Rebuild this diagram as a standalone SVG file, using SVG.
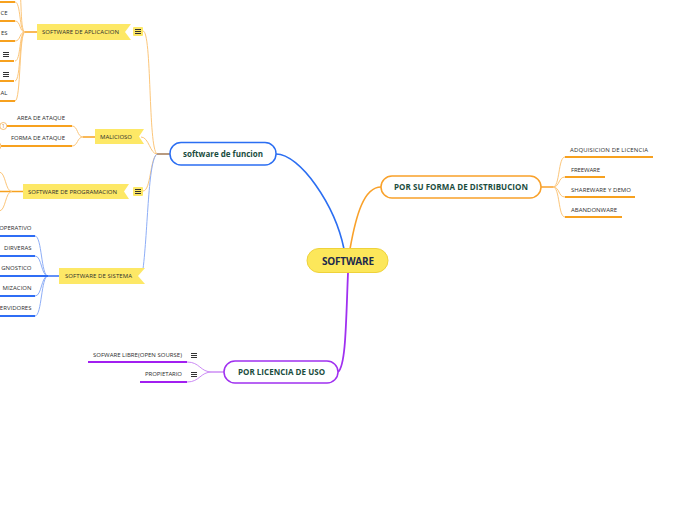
<svg xmlns="http://www.w3.org/2000/svg" width="696" height="520" viewBox="0 0 696 520">
<defs>
<style>
.t{font-family:"Open Sans","Liberation Sans",sans-serif;font-size:6px;fill:#2e2e2e}
.m{font-family:"Open Sans","Liberation Sans",sans-serif;font-size:8px;font-weight:bold;fill:#1b4d3e}
.flag{fill:#fde866}
.uo{stroke:#f7a11f;stroke-width:2;fill:none}
.ub{stroke:#2f6df5;stroke-width:2;fill:none}
.up{stroke:#a21ff0;stroke-width:2;fill:none}
.lo{stroke:#fcc67a;stroke-width:1;fill:none}
.lb{stroke:#8eaef7;stroke-width:1;fill:none}
.lp{stroke:#cc8cf5;stroke-width:1;fill:none}
.ic rect{fill:#333}
</style>
<g id="menu" class="ic"><rect x="-3" y="-3" width="6" height="1"/><rect x="-3" y="-1" width="6" height="1"/><rect x="-3" y="1" width="6" height="1"/></g>
<g id="ymenu"><rect x="-5" y="-5" width="10" height="9" rx="1" fill="#fde866"/><use href="#menu"/></g>
</defs>
<rect width="696" height="520" fill="#ffffff"/>

<g id="connectors">
<path d="M276,154 C300,154 335,205 344,249" stroke="#2b6ef2" stroke-width="1.6" fill="none"/>
<path d="M350,249 C356,215 364,187 381,187" stroke="#f9a12a" stroke-width="1.6" fill="none"/>
<path d="M348,273 C346,320 346,366 338,372" stroke="#a030f0" stroke-width="1.8" fill="none"/>
<line x1="157" y1="154" x2="170" y2="154" stroke="#b89a80" stroke-width="2"/>
<line x1="541" y1="187" x2="553" y2="187" stroke="#f9a12a" stroke-width="1.5"/>
<line x1="212" y1="372" x2="224" y2="372" stroke="#cc8cf5" stroke-width="1.5"/>
<line x1="25" y1="32" x2="37" y2="32" stroke="#f7a11f" stroke-width="1.5"/>
<line x1="83" y1="137" x2="95" y2="137" stroke="#f7a11f" stroke-width="1.5"/>
<line x1="0" y1="191.5" x2="23" y2="191.5" stroke="#f7a11f" stroke-width="1.5"/>
<line x1="48" y1="276" x2="59" y2="276" stroke="#2f6df5" stroke-width="1.5"/>
<path class="lo" d="M143,31 C152,31 148,148 157,154"/>
<path class="lo" d="M141,137 C149,137 150,154 157,154"/>
<path class="lo" d="M143,191 C151,191 150,158 157,154"/>
<path class="lb" d="M143,269 C148,230 148,160 157,154"/>
<path class="lo" d="M553,187 C560,187 558,157 565,157"/>
<path class="lo" d="M553,187 C560,187 558,177 565,177"/>
<path class="lo" d="M553,187 C560,187 558,197 565,197"/>
<path class="lo" d="M553,187 C560,187 558,217 565,217"/>
<path class="lp" d="M212,372 C200,372 200,362 187,362"/>
<path class="lp" d="M212,372 C200,372 200,382 187,382"/>
<path class="lo" d="M25,32 C19,32 23,-18 17,-18"/>
<path class="lo" d="M25,32 C19,32 21,2 15,2"/>
<path class="lo" d="M25,32 C19,32 21,21 15,21"/>
<path class="lo" d="M25,32 C19,32 21,41 15,41"/>
<path class="lo" d="M25,32 C19,32 21,61 15,61"/>
<path class="lo" d="M25,32 C19,32 21,81 15,81"/>
<path class="lo" d="M25,32 C19,32 21,101 15,101"/>
<path class="lo" d="M83,137 C77,137 78,126 72,126"/>
<path class="lo" d="M83,137 C77,137 78,146 72,146"/>
<path class="lo" d="M12,191.5 C5,191.5 6,172 -1,172"/>
<path class="lo" d="M12,191.5 C5,191.5 6,211 -1,211"/>
<path class="lb" d="M48,276 C41,276 42,236 35,236"/>
<path class="lb" d="M48,276 C41,276 42,256 35,256"/>
<path class="lb" d="M48,276 C41,276 42,296 35,296"/>
<path class="lb" d="M48,276 C41,276 42,316 35,316"/>
</g>

<g id="software">
<rect x="307" y="248.5" width="81" height="24" rx="12" fill="#fce75a" stroke="#efd23a" stroke-width="1"/>
<text x="348" y="264.6" text-anchor="middle" font-family="'Open Sans','Liberation Sans',sans-serif" font-size="10" font-weight="bold" fill="#1c2a4d" textLength="52">SOFTWARE</text>
</g>

<g id="software-de-funcion">
<rect x="170" y="142.5" width="106" height="22.5" rx="11" fill="#fff" stroke="#2b6ef2" stroke-width="1.5"/>
<text class="m" x="223" y="156.8" text-anchor="middle" textLength="80">software de funcion</text>
</g>

<g id="por-su-forma">
<rect x="381" y="176" width="160" height="22" rx="11" fill="#fff" stroke="#f9a12a" stroke-width="1.5"/>
<text class="m" x="461" y="190" text-anchor="middle" textLength="134">POR SU FORMA DE DISTRIBUCION</text>
</g>

<g id="por-licencia">
<rect x="224" y="361" width="114" height="22" rx="11" fill="#fff" stroke="#a030f0" stroke-width="1.5"/>
<text class="m" x="281.5" y="375" text-anchor="middle" textLength="87">POR LICENCIA DE USO</text>
</g>

<g id="adquisicion"><line class="uo" x1="565" y1="157" x2="653" y2="157"/><text class="t" x="570" y="152.2" textLength="78">ADQUISICION DE LICENCIA</text></g>
<g id="freeware"><line class="uo" x1="565" y1="177" x2="605" y2="177"/><text class="t" x="571" y="172.2" textLength="29">FREEWARE</text></g>
<g id="shareware"><line class="uo" x1="565" y1="197" x2="635" y2="197"/><text class="t" x="571" y="192.2" textLength="60">SHAREWARE Y DEMO</text></g>
<g id="abandonware"><line class="uo" x1="565" y1="217" x2="622" y2="217"/><text class="t" x="571" y="212.2" textLength="46">ABANDONWARE</text></g>

<g id="sofware-libre"><line class="up" x1="88" y1="362" x2="187" y2="362"/><text class="t" x="93" y="357.2" textLength="89">SOFWARE LIBRE(OPEN SOURSE)</text><use href="#menu" x="194" y="356"/></g>
<g id="propietario"><line class="up" x1="140" y1="382" x2="187" y2="382"/><text class="t" x="145" y="376.4" textLength="37">PROPIETARIO</text><use href="#menu" x="194" y="375"/></g>

<g id="software-de-aplicacion">
<polygon class="flag" points="37,24 131,24 125,32 131,40 37,40"/>
<text class="t" x="42" y="34.2" textLength="77">SOFTWARE DE APLICACION</text>
<use href="#ymenu" x="138" y="32"/>
</g>
<g id="malicioso">
<polygon class="flag" points="95,129 144,129 139,136.5 144,144 95,144"/>
<text class="t" x="100" y="138.7" textLength="32">MALICIOSO</text>
</g>
<g id="software-de-programacion">
<polygon class="flag" points="23,184 129,184 124,191.5 129,199 23,199"/>
<text class="t" x="28" y="193.7" textLength="89">SOFTWARE DE PROGRAMACION</text>
<use href="#ymenu" x="138" y="192"/>
</g>
<g id="software-de-sistema">
<polygon class="flag" points="59,268 145,268 138,276 145,284 59,284"/>
<text class="t" x="65" y="278.2" textLength="67">SOFTWARE DE SISTEMA</text>
</g>

<g id="area-de-ataque"><line class="uo" x1="7" y1="126" x2="72" y2="126"/><text class="t" x="17" y="120.2" textLength="48">AREA DE ATAQUE</text>
<circle cx="3.3" cy="126" r="3.5" fill="#fff" stroke="#f7b050" stroke-width="0.8"/><text x="3.3" y="127.6" text-anchor="middle" font-family="'Open Sans',sans-serif" font-size="4.5" fill="#b07020">1</text></g>
<g id="forma-de-ataque"><line class="uo" x1="0" y1="146" x2="72" y2="146"/><text class="t" x="11" y="140.2" textLength="54">FORMA DE ATAQUE</text>
<circle cx="-2.5" cy="146" r="3.5" fill="#fff" stroke="#f7b050" stroke-width="0.8"/></g>

<g id="apl-1"><line class="uo" x1="0" y1="2" x2="15" y2="2"/></g>
<g id="apl-2"><line class="uo" x1="0" y1="21" x2="15" y2="21"/><text class="t" x="7.5" y="15.2" text-anchor="end">CE</text></g>
<g id="apl-3"><line class="uo" x1="0" y1="41" x2="15" y2="41"/><text class="t" x="7.5" y="35.2" text-anchor="end">ES</text></g>
<g id="apl-4"><line class="uo" x1="0" y1="61" x2="14" y2="61"/><use href="#menu" x="6" y="55"/></g>
<g id="apl-5"><line class="uo" x1="0" y1="81" x2="14" y2="81"/><use href="#menu" x="6" y="75"/></g>
<g id="apl-6"><line class="uo" x1="0" y1="101" x2="15" y2="101"/><text class="t" x="7.5" y="95.2" text-anchor="end">AL</text></g>

<g id="sis-1"><line class="ub" x1="0" y1="236" x2="35" y2="236"/><text class="t" x="31.5" y="230.2" text-anchor="end">OPERATIVO</text></g>
<g id="sis-2"><line class="ub" x1="0" y1="256" x2="35" y2="256"/><text class="t" x="31.5" y="250.2" text-anchor="end">DIRVERAS</text></g>
<g id="sis-3"><line class="ub" x1="0" y1="276" x2="48" y2="276"/><text class="t" x="31.5" y="270.2" text-anchor="end">GNOSTICO</text></g>
<g id="sis-4"><line class="ub" x1="0" y1="296" x2="35" y2="296"/><text class="t" x="31.5" y="290.2" text-anchor="end">MIZACION</text></g>
<g id="sis-5"><line class="ub" x1="0" y1="316" x2="35" y2="316"/><text class="t" x="31.5" y="310.2" text-anchor="end">ERVIDORES</text></g>
</svg>
